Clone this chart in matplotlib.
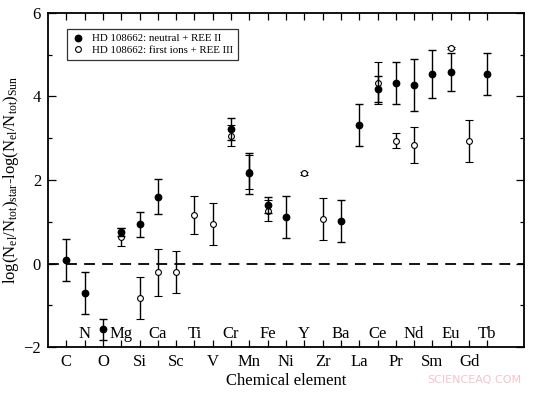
import numpy as np
import matplotlib
matplotlib.use('Agg')
import matplotlib.pyplot as plt
from matplotlib.lines import Line2D

elements = ['C', 'N', 'O', 'Mg', 'Si', 'Ca', 'Sc', 'Ti', 'V', 'Cr', 'Mn', 'Fe',
            'Ni', 'Y', 'Zr', 'Ba', 'La', 'Ce', 'Pr', 'Nd', 'Sm', 'Eu', 'Gd', 'Tb']

nan = np.nan
# neutral + REE II (filled)
neutral = [0.08, -0.70, -1.58, 0.76, 0.94, 1.60, nan, nan, nan, 3.22, 2.16, 1.40,
           1.11, nan, nan, 1.01, 3.32, 4.18, 4.32, 4.28, 4.54, 4.58, nan, 4.53]
neutral_err = [0.50, 0.50, 0.26, 0.10, 0.30, 0.42, nan, nan, nan, 0.27, 0.49, 0.20,
               0.50, nan, nan, 0.50, 0.50, 0.30, 0.50, 0.62, 0.58, 0.45, nan, 0.50]
# first ions + REE III (open)
ions = [nan, nan, nan, 0.64, -0.82, -0.21, -0.21, 1.16, 0.94, 3.06, 2.19, 1.26,
        nan, 2.16, 1.06, nan, nan, 4.32, 2.94, 2.83, nan, 5.16, 2.94, nan]
ions_err = [nan, nan, nan, 0.22, 0.50, 0.56, 0.50, 0.46, 0.50, 0.25, 0.41, 0.25,
            nan, 0.04, 0.50, nan, nan, 0.50, 0.18, 0.43, nan, 0.03, 0.50, nan]

plt.rcParams['font.family'] = ['Liberation Serif', 'DejaVu Serif']
plt.rcParams['mathtext.fontset'] = 'custom'
plt.rcParams['mathtext.rm'] = 'Liberation Serif'
plt.rcParams['mathtext.it'] = 'Liberation Serif:italic'

x = np.arange(1, len(elements) + 1)

fig = plt.figure(figsize=(5.37, 3.93), dpi=100)
ax = fig.add_axes([48/537, 1 - 347/393, 476/537, 334/393])

ax.axhline(0, color='black', lw=1.3, ls=(0, (6, 4)), zorder=1)

ax.errorbar(x, ions, yerr=ions_err, fmt='o', ms=4.2, mfc='white', mec='black',
            mew=0.8, ecolor='black', elinewidth=1, capsize=2.6, capthick=1, zorder=2)
ax.errorbar(x, neutral, yerr=neutral_err, fmt='o', ms=4.6, mfc='black', mec='black',
            ecolor='black', elinewidth=1, capsize=2.6, capthick=1, zorder=3)

ax.set_xlim(0, 26)
ax.set_ylim(-2, 6)
ax.set_yticks([-2, 0, 2, 4, 6])
ax.set_yticks([-1, 1, 3, 5], minor=True)
ax.set_yticklabels(['\u22122', '0', '2', '4', '6'], fontsize=12)

# alternate element labels: odd ones below the axis, even ones inside
ax.set_xticks(x)
ax.set_xticklabels([e if i % 2 == 0 else '' for i, e in enumerate(elements)], fontsize=12)
for i, e in enumerate(elements):
    if i % 2 == 1:
        ax.text(x[i], -1.78, e, ha='center', va='baseline', fontsize=12)

ax.tick_params(which='both', direction='in', top=True, right=True, width=0.9)
ax.tick_params(which='major', length=6, pad=5)
ax.tick_params(which='minor', length=3)
ax.tick_params(axis='x', which='major', length=5)
for s in ax.spines.values():
    s.set_linewidth(1.3)

ax.set_xlabel('Chemical element', fontsize=12, labelpad=2)
ax.set_ylabel(r'$\mathrm{log(N_{el}/N_{tot})_{star}\text{-}log(N_{el}/N_{tot})_{Sun}}$',
              fontsize=12, labelpad=2)

handles = [Line2D([], [], ls='none', marker='o', ms=4.6, mfc='black', mec='black'),
           Line2D([], [], ls='none', marker='o', ms=4.2, mfc='white', mec='black', mew=0.8)]
labels = ['HD 108662: neutral + REE II', 'HD 108662: first ions + REE III']
leg = ax.legend(handles, labels, loc='upper left', bbox_to_anchor=(0.04, 0.952),
                borderaxespad=0, fontsize=7.8, frameon=True, fancybox=False,
                handlelength=1.2, handletextpad=0.7, borderpad=0.45, labelspacing=0.2)
leg.get_frame().set_edgecolor('black')
leg.get_frame().set_linewidth(0.9)

fig.text(0.97, 0.02, 'SCIENCEAQ.COM', color='#f2c4cc', fontsize=8,
         family='DejaVu Sans', ha='right', va='bottom')

fig.savefig('out.png', dpi=100)
